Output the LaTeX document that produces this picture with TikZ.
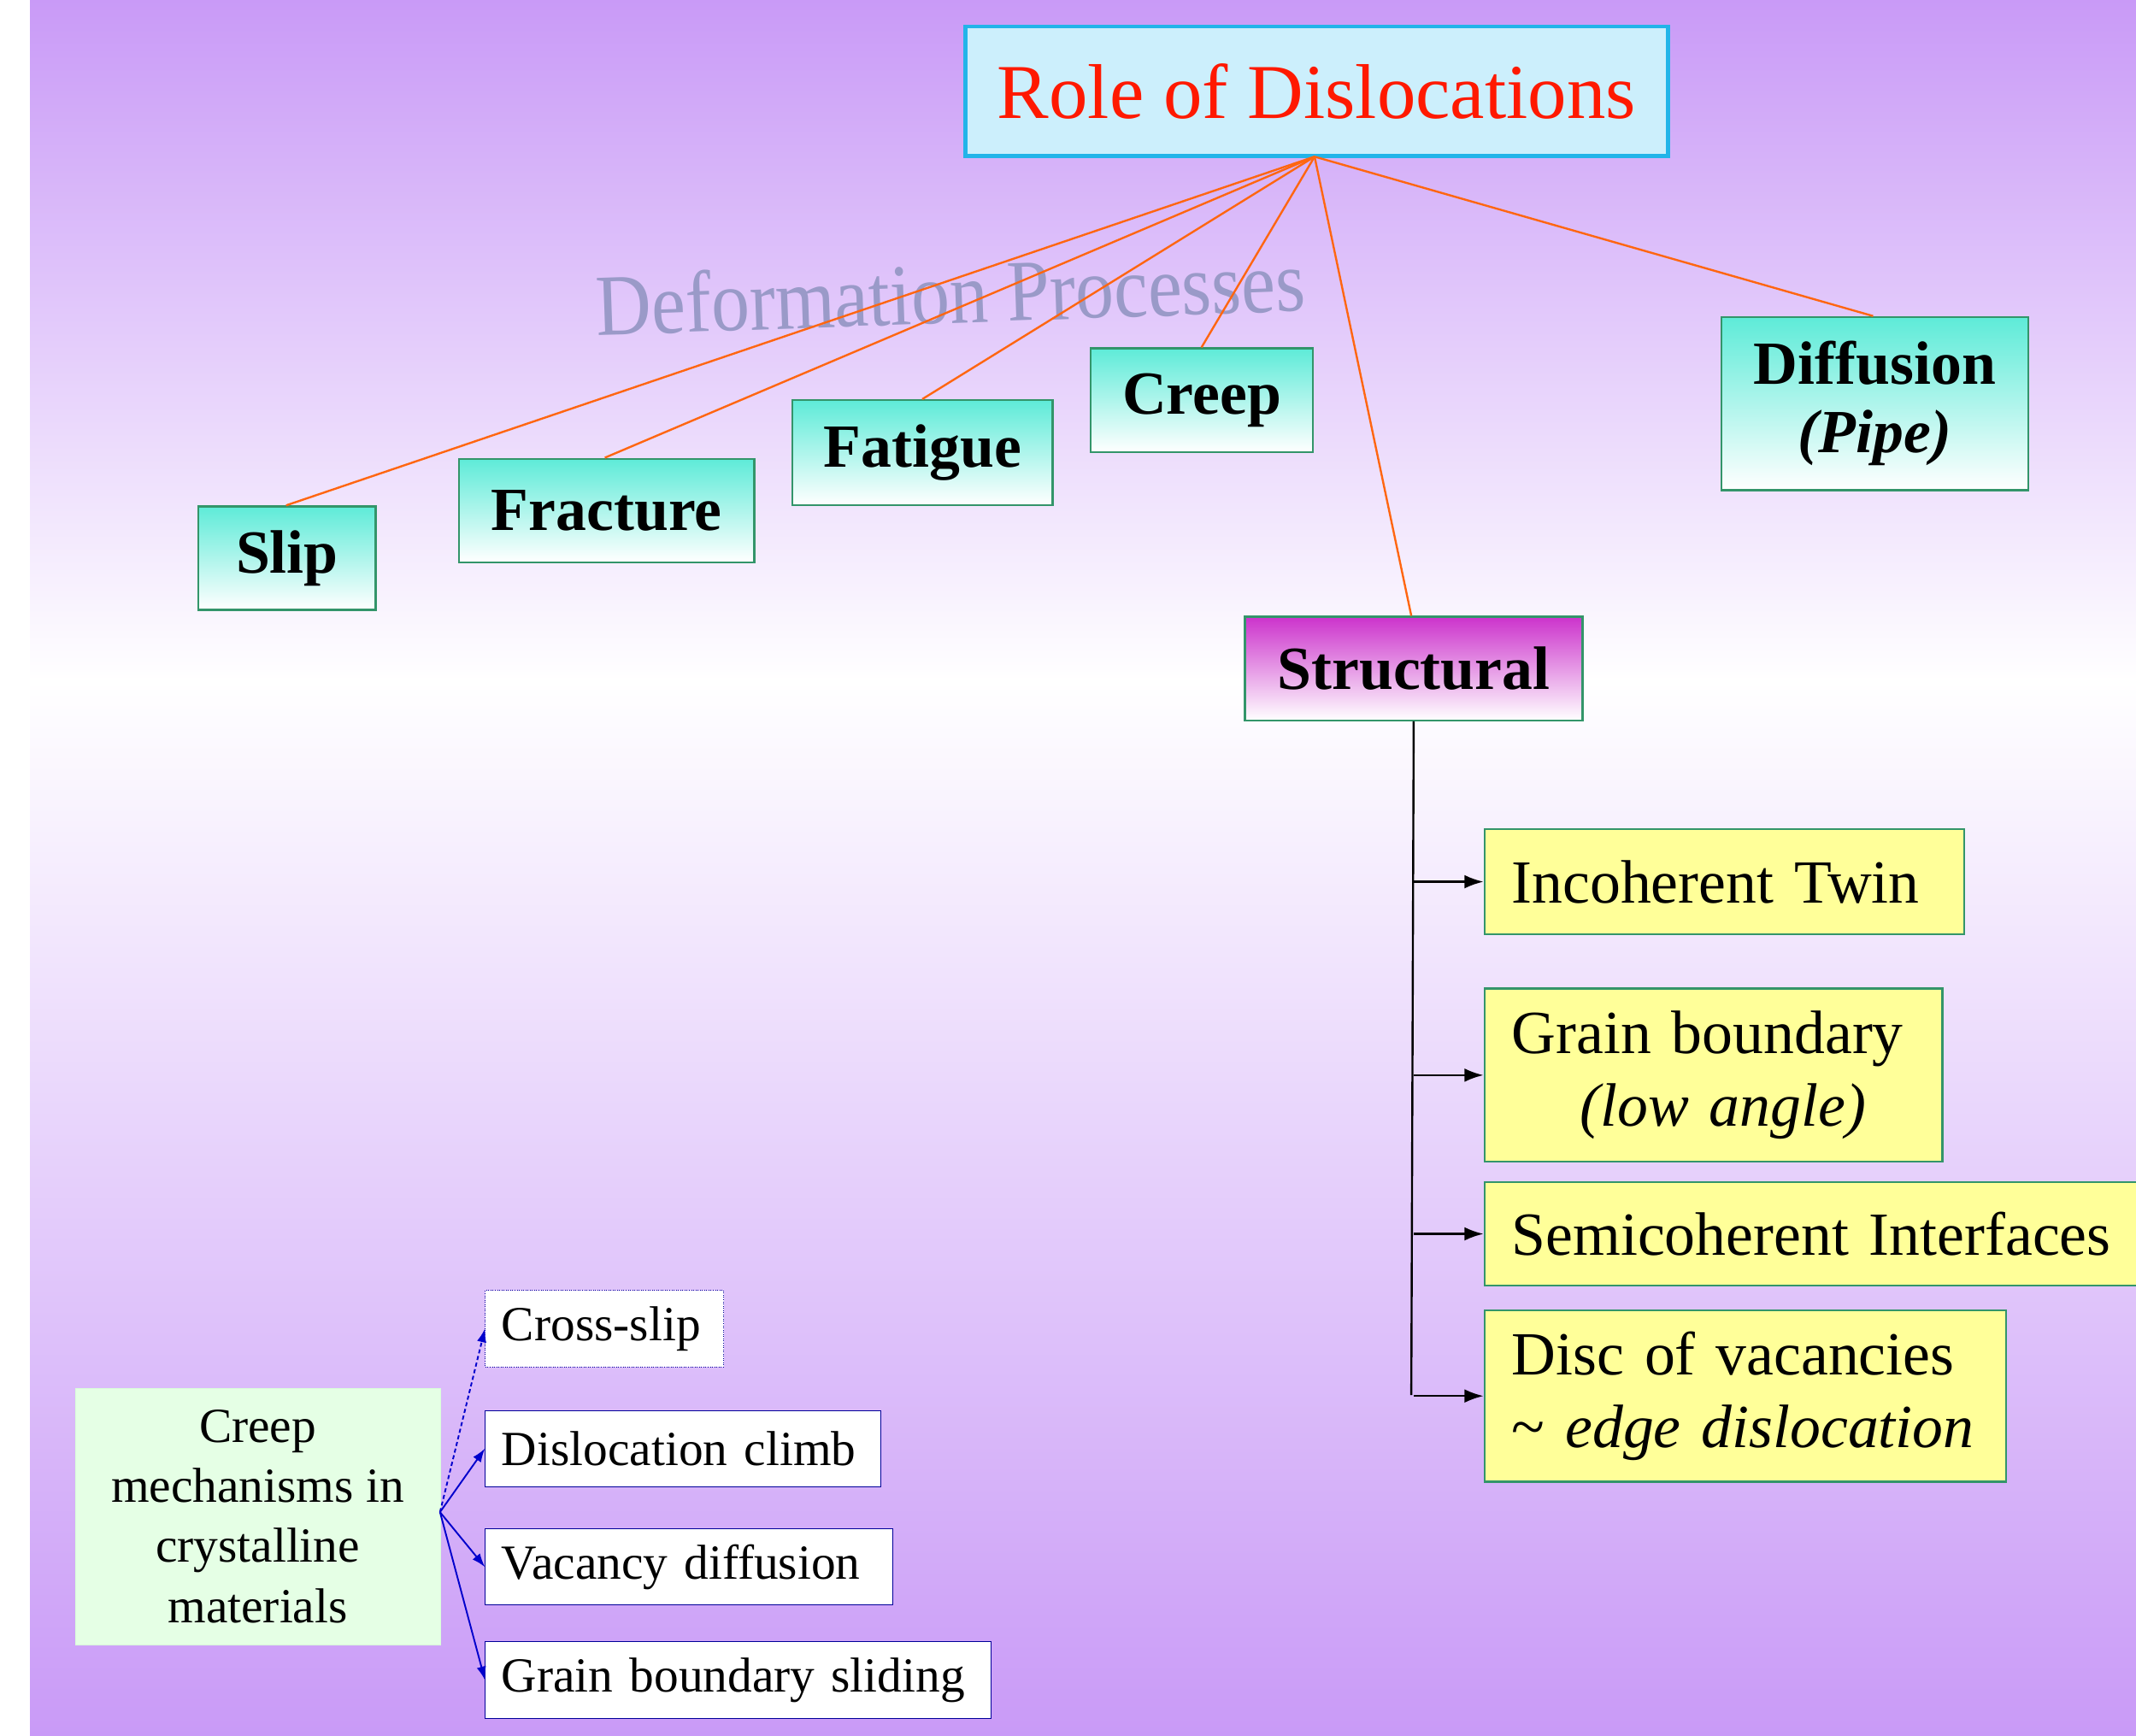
\documentclass[tikz,border=0pt]{standalone}
\usepackage{fontspec}
\setmainfont{Liberation Serif}
\usetikzlibrary{arrows.meta,shadings}
\definecolor{bgp}{HTML}{C99AF7}
\definecolor{teal}{HTML}{5EEBD8}
\definecolor{bdr}{HTML}{33956A}
\definecolor{mag}{HTML}{CC33CC}
\definecolor{yel}{HTML}{FFFF99}
\definecolor{org}{HTML}{FF6611}
\definecolor{wa}{HTML}{9A9AC8}
\tikzset{x=1pt,y=-1pt,
 fs/.style={font=\fontsize{#1}{#1}\selectfont},
 bx/.style args={#1/#2}{draw=bdr,line width=1.5pt,anchor=north west,minimum width=#1,minimum height=#2,inner sep=0pt,align=center},
 tb/.style={bx=#1,top color=teal,bottom color=white,font=\fontsize{45}{50}\selectfont\bfseries},
 yb/.style args={#1/#2/#3}{draw=bdr,line width=1.5pt,anchor=north west,minimum height=#2,inner ysep=0pt,inner xsep=20pt,text width=#3,fill=yel,align=left,font=\fontsize{45}{53}\selectfont},
 wb/.style={draw=blue!60!black,line width=0.6pt,fill=white,anchor=north west,minimum width=#1,minimum height=56pt,inner ysep=0pt,inner xsep=12pt,text width=#1-24pt,align=left,font=\fontsize{36}{40}\selectfont},
 ol/.style={org,line width=1.5pt},
 ba/.style={-{Latex[length=14pt,width=10pt]},line width=1.5pt},
 bl/.style={-{Latex[length=10pt,width=7pt]},blue!80!black,line width=1.2pt}}
\begin{document}
\begin{tikzpicture}
\useasboundingbox (0,0) rectangle (1568,1274);
\begin{scope}
\clip (0,0) rectangle (1568,1274);
\fill[white] (0,0) rectangle (1568,1274);
\shade[top color=bgp,bottom color=white] (22,0) rectangle (1568,500);
\shade[top color=white,bottom color=bgp] (22,499) rectangle (1568,1274);
% WordArt
\node[fs=64,text=wa,rotate=2,xscale=0.88] (dp) at (698,215) {Deformation Processes};
% nodes
\node[bx=516pt/95pt,fill=cyan!20,draw=cyan!70!teal,line width=3pt,text=red!80!orange,font=\fontsize{57}{60}\selectfont] (t) at (707,18) {Role of Dislocations};
\node[tb=130pt/76pt] (slip) at (145,371) {Slip};
\node[tb=217pt/76pt] (fr) at (336,336) {Fracture};
\node[tb=191pt/77pt] (fa) at (581,293) {Fatigue};
\node[tb=163pt/76pt] (cr) at (800,255) {Creep};
\node[tb=225pt/127pt] (di) at (1263,232) {Diffusion\\\itshape (Pipe)};
\node[bx=248pt/76pt,top color=mag,bottom color=white,font=\fontsize{45}{50}\selectfont\bfseries] (st) at (913,452) {Structural};
\node[yb=x/77pt/312pt] (y1) at (1089,608) {Incoherent Twin};
\node[yb=x/127pt/296pt] (y2) at (1089,725) {Grain boundary\\\hspace*{50pt}\itshape (low angle)};
\node[yb=x/76pt/460pt] (y3) at (1089,867) {Semicoherent Interfaces};
\node[yb=x/126pt/343pt] (y4) at (1089,961) {Disc of vacancies\\\textasciitilde{} \itshape edge dislocation};
\node[draw=green!15!white,fill=green!10!white,anchor=north west,minimum width=268pt,minimum height=188pt,inner sep=0pt,align=center,font=\fontsize{36}{44}\selectfont] (cm) at (55,1019) {Creep\\mechanisms in\\crystalline\\materials};
\node[wb=175pt,densely dotted] (c1) at (356,947) {Cross-slip};
\node[wb=290pt] (c2) at (356,1035) {Dislocation climb};
\node[wb=299pt] (c3) at (356,1122) {Vacancy diffusion};
\node[wb=371pt] (c4) at (356,1205) {Grain boundary sliding};
% connectors
\coordinate (o) at (965,115);
\foreach \n/\x in {slip/210,fr/444,fa/677,cr/882,di/1375,st/1036}
  \draw[ol] (o) -- (\n.north -| \x,0);
\coordinate (se) at (1036,1024);
\draw[line width=1.5pt] (st.south) -- (se);
\foreach \n in {y1,y2,y3,y4} \draw[ba] (st.south |- \n.west) -- (\n.west);
\coordinate (q) at (323,1110);
\draw[bl,densely dashed] (q) -- (c1.west);
\foreach \n in {c2,c3,c4} \draw[bl] (q) -- (\n.west);
\end{scope}
\end{tikzpicture}
\end{document}
